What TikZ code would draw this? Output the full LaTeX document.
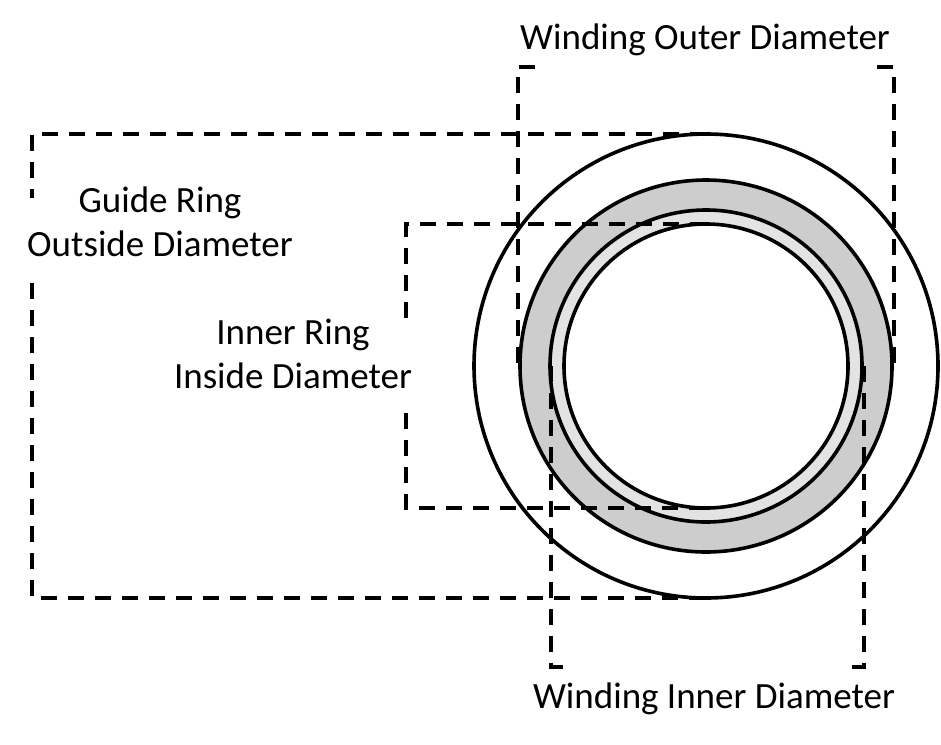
\documentclass[tikz,border=0pt]{standalone}
\usepackage{fontspec}
\setmainfont{Carlito}
\definecolor{banddark}{HTML}{CDCDCD}
\definecolor{bandlight}{HTML}{E3E3E3}
\begin{document}
\begin{tikzpicture}[x=1pt,y=-1pt,
  ringline/.style={line width=3.6pt},
  dimline/.style={line width=4pt,dash pattern=on 16pt off 11pt},
  lbl/.style={font=\fontsize{37}{44}\selectfont,inner sep=0pt,align=center,anchor=base}]
\useasboundingbox (0,0) rectangle (941,744);
\coordinate (c) at (706,366);
% rings
\fill[banddark] (c) circle (186);
\fill[bandlight] (c) circle (156);
\fill[white] (c) circle (142);
\draw[ringline] (c) circle (232);
\draw[ringline] (c) circle (186);
\draw[ringline] (c) circle (156);
\draw[ringline] (c) circle (142);
% guide ring outside diameter
\draw[dimline] (706,134) -- (32,134) -- (32,198);
\draw[dimline] (32,283) -- (32,598) -- (706,598);
% inner ring inside diameter
\draw[dimline] (706,224) -- (406,224) -- (406,320);
\draw[dimline] (406,413) -- (406,508) -- (706,508);
% winding outer diameter
\draw[dimline] (535,67) -- (518,67) -- (518,366);
\draw[dimline] (877,67) -- (894,67) -- (894,366);
% winding inner diameter
\draw[dimline] (551,366) -- (551,667) -- (566,667);
\draw[dimline] (864,366) -- (864,667) -- (849,667);
% labels
\node[lbl] (wod) at (705,49) {Winding Outer Diameter};
\node[lbl] (wid) at (714,708) {Winding Inner Diameter};
\node[lbl] (grod) at (160,256) {Guide Ring\\Outside Diameter};
\node[lbl] (irid) at (293,388) {Inner Ring\\Inside Diameter};
\end{tikzpicture}
\end{document}
